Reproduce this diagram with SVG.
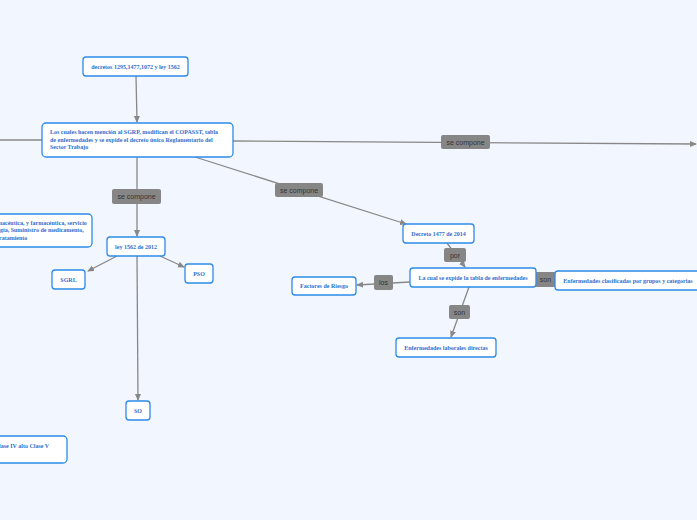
<svg xmlns="http://www.w3.org/2000/svg" width="697" height="520" viewBox="0 0 697 520">
<style>
.n rect{fill:#fff;stroke:#2d8ae8;stroke-width:1.3}
.n text{font-family:"Liberation Serif",serif;font-weight:bold;font-size:6px;fill:#2f6fd0}
.c line{stroke:#888;stroke-width:1.3}
.l rect{fill:#868686}
.l text{font-family:"Liberation Sans",sans-serif;font-size:7px;fill:#333;text-anchor:middle}
</style>
<defs><marker id="a" markerWidth="8" markerHeight="8" refX="6" refY="3" orient="auto" markerUnits="userSpaceOnUse"><path d="M0,0L7,3L0,6z" fill="#888"/></marker></defs>
<rect width="697" height="520" fill="#f2f6fe"/>
<g class="c">
<line x1="0" y1="140" x2="42" y2="140"/>
<line x1="233" y1="141" x2="696" y2="144" marker-end="url(#a)"/>
<line x1="136" y1="76" x2="137" y2="122" marker-end="url(#a)"/>
<line x1="137" y1="157" x2="137" y2="236" marker-end="url(#a)"/>
<line x1="195" y1="157" x2="406" y2="224" marker-end="url(#a)"/>
<line x1="117" y1="256" x2="88" y2="271" marker-end="url(#a)"/>
<line x1="160" y1="256" x2="184" y2="267" marker-end="url(#a)"/>
<line x1="137" y1="256" x2="138" y2="400" marker-end="url(#a)"/>
<line x1="447" y1="243" x2="465" y2="267" marker-end="url(#a)"/>
<line x1="410" y1="282" x2="357" y2="285" marker-end="url(#a)"/>
<line x1="536" y1="279" x2="555" y2="280"/>
<line x1="469" y1="287" x2="451" y2="337" marker-end="url(#a)"/>
</g>
<g class="l">
<rect x="441" y="135" width="49" height="14" rx="2"/><text x="465.5" y="145">se compone</text>
<rect x="112" y="189" width="49" height="15" rx="2"/><text x="136.5" y="199">se compone</text>
<rect x="275" y="183" width="48" height="14" rx="2"/><text x="299" y="193">se compone</text>
<rect x="444" y="248" width="22" height="14" rx="2"/><text x="455" y="258">por</text>
<rect x="374" y="275" width="19" height="15" rx="2"/><text x="383.5" y="285">los</text>
<rect x="535" y="272" width="21" height="15" rx="2"/><text x="545.5" y="282">son</text>
<rect x="449" y="305" width="21" height="14" rx="2"/><text x="459.5" y="315">son</text>
</g>
<g id="decretos" class="n"><rect x="83" y="57" width="105" height="19" rx="3"/><text x="135.5" y="68.5" text-anchor="middle">decretos 1295,1477,1072 y ley 1562</text></g>
<g id="main" class="n"><rect x="42" y="123" width="191" height="34" rx="4"/><text x="50" y="134">Los cuales hacen mención al SGRP, modifican el COPASST, tabla</text><text x="50" y="141.5">de enfermedades y se expide el decreto único Reglamentario del</text><text x="50" y="149">Sector Trabajo</text></g>
<g id="left" class="n"><rect x="-10" y="214" width="102" height="33" rx="4"/><text x="-3" y="225">macéutica, y farmacéutica, servicio</text><text x="-3" y="232">ogía, Suministro de medicamento,</text><text x="-3" y="239.5">tratamiento</text></g>
<g id="ley" class="n"><rect x="107" y="237" width="58" height="19" rx="3"/><text x="136" y="248.5" text-anchor="middle">ley 1562 de 2012</text></g>
<g id="sgrl" class="n"><rect x="52" y="270" width="33" height="19" rx="3"/><text x="68.5" y="281.5" text-anchor="middle">SGRL</text></g>
<g id="pso" class="n"><rect x="185" y="264" width="28" height="19" rx="3"/><text x="199" y="275.5" text-anchor="middle">PSO</text></g>
<g id="so" class="n"><rect x="126" y="401" width="24" height="19" rx="3"/><text x="138" y="412.5" text-anchor="middle">SO</text></g>
<g id="clase" class="n"><rect x="-10" y="436" width="77" height="27" rx="4"/><text x="-1" y="447.5">lase IV alto Clase V</text></g>
<g id="decreto1477" class="n"><rect x="403" y="224" width="71" height="19" rx="3"/><text x="438.5" y="235.5" text-anchor="middle">Decreto 1477 de 2014</text></g>
<g id="lacual" class="n"><rect x="410" y="268" width="126" height="19" rx="3"/><text x="473" y="279.5" text-anchor="middle">La cual se expide la tabla de enfermedades</text></g>
<g id="factores" class="n"><rect x="292" y="277" width="64" height="18" rx="3"/><text x="324" y="288" text-anchor="middle">Factores de Riesgo</text></g>
<g id="clasif" class="n"><rect x="555" y="271" width="145" height="19" rx="3"/><text x="628" y="282.5" text-anchor="middle">Enfermedades clasificadas por grupos y categorias</text></g>
<g id="laborales" class="n"><rect x="396" y="338" width="100" height="19" rx="3"/><text x="446" y="349.5" text-anchor="middle">Enfermedades laborales directas</text></g>
</svg>
